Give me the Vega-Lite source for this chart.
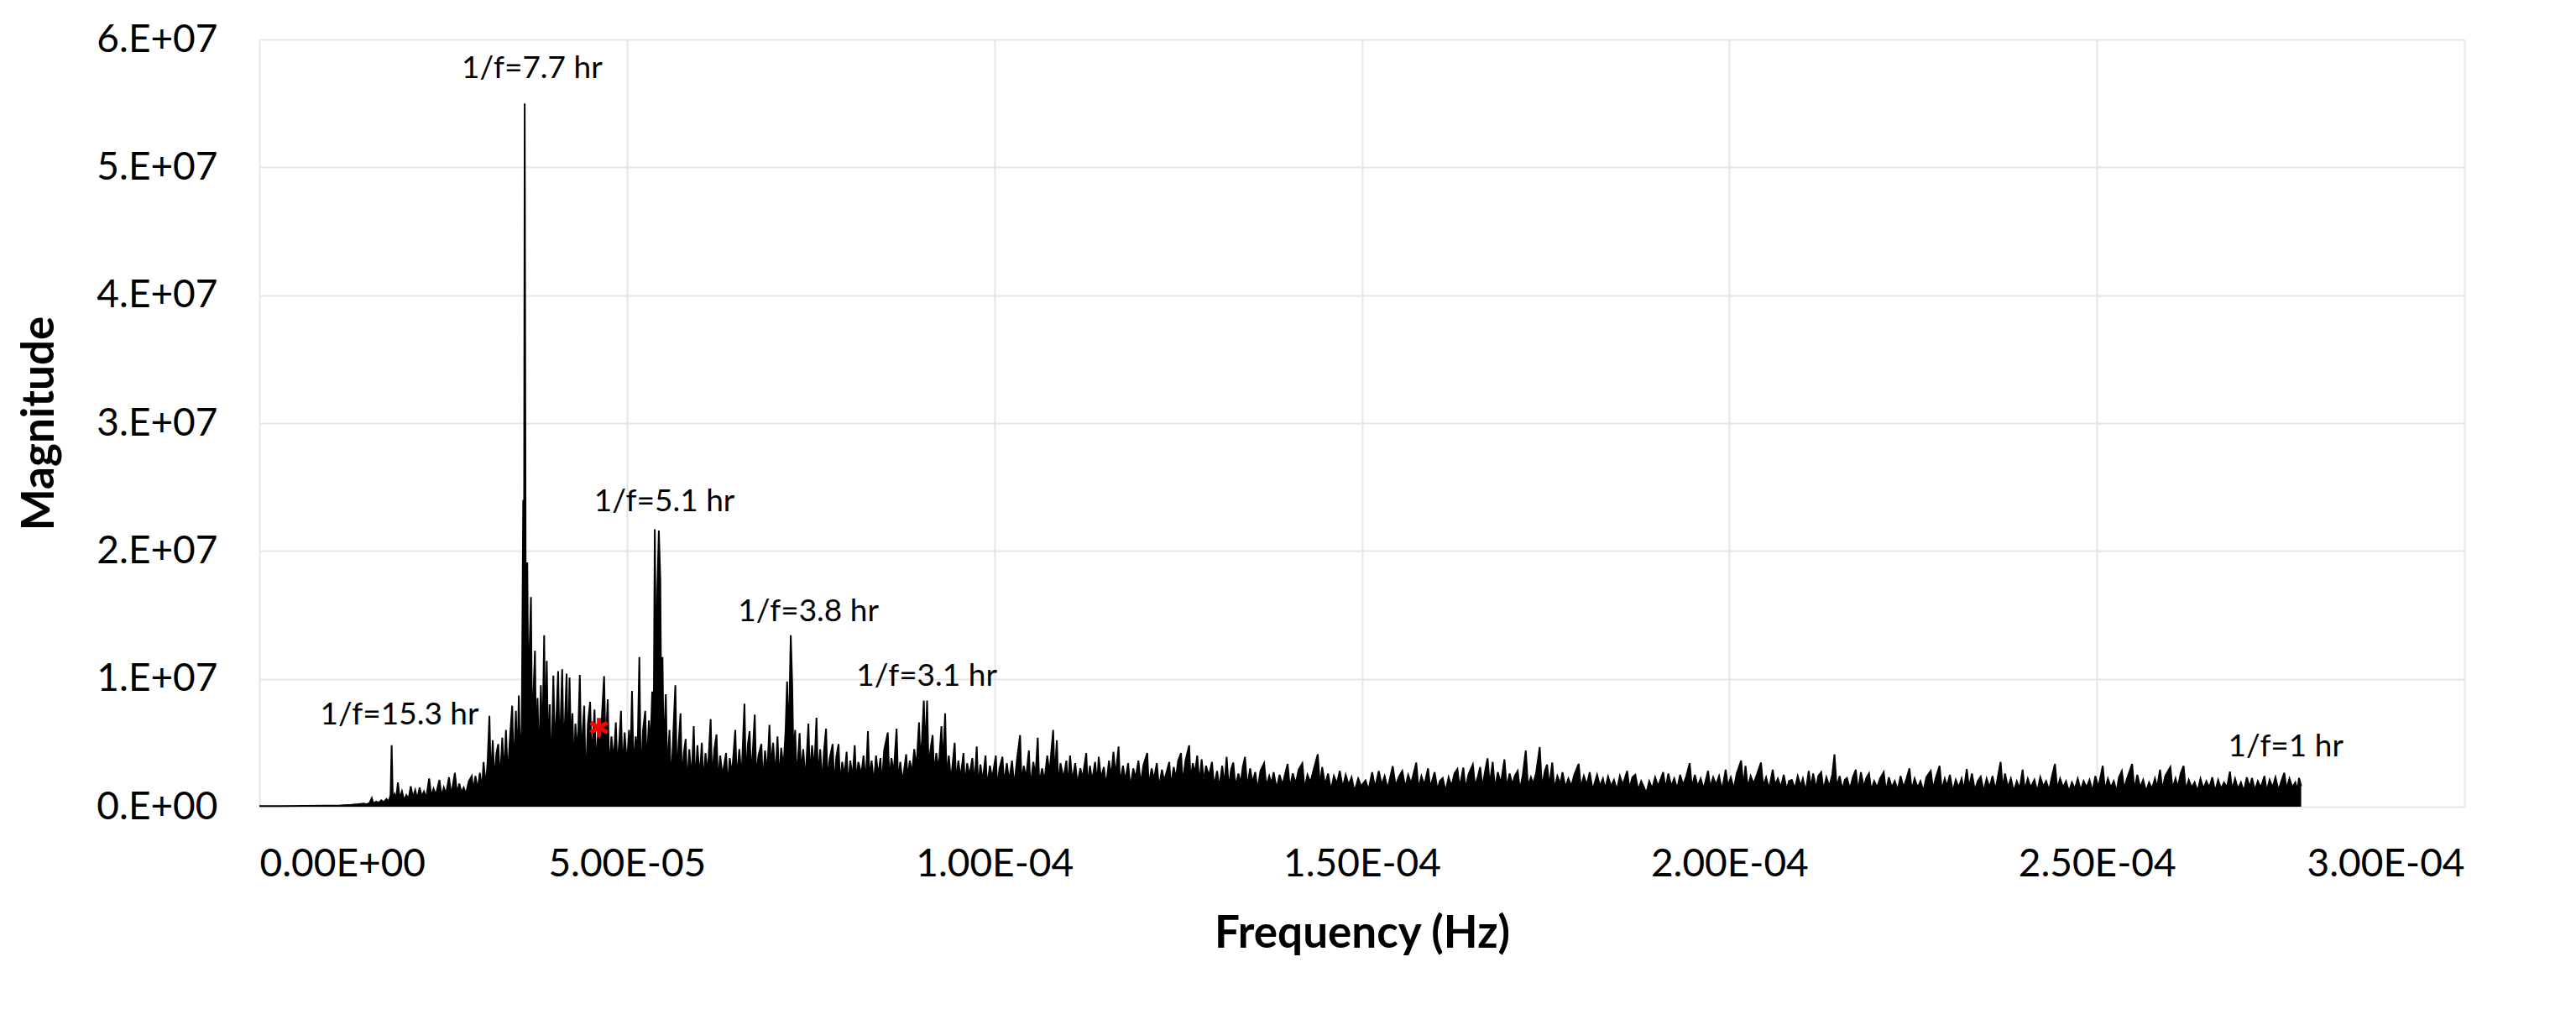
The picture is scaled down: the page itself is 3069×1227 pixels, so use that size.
{
  "$schema": "https://vega.github.io/schema/vega-lite/v6.json",
  "width": 2627,
  "height": 914,
  "autosize": {"type": "none"},
  "padding": {"left": 309, "top": 47, "right": 133, "bottom": 266},
  "background": "white",
  "config": {
    "view": {"stroke": null},
    "font": "Lato",
    "axis": {
      "labelFont": "Lato",
      "titleFont": "Lato",
      "labelColor": "black",
      "titleColor": "black",
      "labelFontSize": 46,
      "labelLimit": 0,
      "titleFontSize": 53,
      "titleFontWeight": "bold",
      "ticks": false,
      "domain": false,
      "grid": true,
      "gridColor": "#e6e6e6",
      "gridWidth": 2
    }
  },
  "datasets": {
    "spectrum": [
      {"f":0,"m":0.05},{"f":3,"m":0.05},{"f":6,"m":0.06},{"f":9,"m":0.08},{"f":11,"m":0.1},{"f":12.5,"m":0.14},{"f":13.5,"m":0.2},{"f":14.2,"m":0.25},{"f":14.6,"m":0.18},{"f":15.0,"m":0.3},{"f":15.3,"m":0.68},{"f":15.5,"m":0.25},{"f":15.9,"m":0.4},{"f":16.2,"m":0.3},{"f":16.6,"m":0.5},{"f":16.9,"m":0.35},{"f":17.3,"m":0.6},{"f":17.6,"m":0.4},{"f":17.85,"m":0.9},{"f":18.0,"m":4.8},{"f":18.15,"m":0.7},{"f":18.4,"m":1.0},{"f":18.6,"m":0.5},{"f":18.85,"m":1.9},{"f":19.1,"m":0.6},{"f":19.4,"m":1.2},{"f":19.7,"m":0.5},{"f":20.0,"m":0.9},{"f":20.3,"m":0.6},{"f":20.6,"m":1.6},{"f":20.9,"m":0.7},{"f":21.2,"m":1.3},{"f":21.5,"m":0.6},{"f":21.8,"m":1.5},{"f":22.1,"m":0.8},{"f":22.4,"m":1.2},{"f":22.7,"m":0.7},{"f":23.1,"m":2.2},{"f":23.4,"m":0.8},{"f":23.7,"m":1.4},{"f":24.0,"m":0.9},{"f":24.5,"m":2.1},{"f":24.8,"m":0.8},{"f":25.1,"m":1.5},{"f":25.4,"m":1.0},{"f":25.8,"m":2.3},{"f":26.1,"m":0.9},{"f":26.3,"m":1.6},{"f":26.6,"m":2.65},{"f":26.9,"m":1.0},{"f":27.2,"m":1.8},{"f":27.5,"m":1.1},{"f":27.8,"m":1.5},{"f":28.1,"m":1.0},{"f":28.5,"m":2.0},{"f":28.9,"m":2.4},{"f":29.1,"m":1.2},{"f":29.4,"m":2.4},{"f":29.7,"m":1.3},{"f":30.0,"m":2.65},{"f":30.3,"m":1.4},{"f":30.5,"m":3.5},{"f":30.8,"m":1.6},{"f":31.05,"m":3.45},{"f":31.3,"m":7.1},{"f":31.5,"m":1.8},{"f":31.75,"m":5.2},{"f":32.0,"m":1.9},{"f":32.25,"m":4.2},{"f":32.5,"m":4.9},{"f":32.75,"m":2.0},{"f":33.05,"m":5.4},{"f":33.3,"m":2.4},{"f":33.55,"m":6.0},{"f":33.8,"m":2.2},{"f":34.05,"m":5.0},{"f":34.4,"m":7.9},{"f":34.6,"m":2.6},{"f":34.9,"m":7.5},{"f":35.1,"m":3.0},{"f":35.3,"m":8.7},{"f":35.5,"m":3.2},{"f":35.7,"m":6.5},{"f":35.9,"m":24.0},{"f":36.0,"m":14},{"f":36.1,"m":55},{"f":36.25,"m":12},{"f":36.45,"m":19.1},{"f":36.6,"m":8},{"f":36.75,"m":12},{"f":36.95,"m":16.4},{"f":37.1,"m":5.5},{"f":37.3,"m":9},{"f":37.5,"m":12.2},{"f":37.65,"m":4.0},{"f":37.85,"m":8.5},{"f":38.05,"m":3.0},{"f":38.3,"m":9.5},{"f":38.5,"m":4.5},{"f":38.75,"m":13.4},{"f":38.9,"m":4.0},{"f":39.1,"m":11.4},{"f":39.3,"m":3.5},{"f":39.5,"m":8.0},{"f":39.7,"m":2.0},{"f":40.0,"m":10.25},{"f":40.2,"m":4.5},{"f":40.45,"m":7.5},{"f":40.65,"m":10.6},{"f":40.85,"m":3.8},{"f":41.2,"m":10.75},{"f":41.4,"m":4.2},{"f":41.6,"m":7.0},{"f":41.8,"m":10.4},{"f":42.0,"m":3.0},{"f":42.2,"m":10.1},{"f":42.4,"m":4.6},{"f":42.6,"m":7.3},{"f":42.8,"m":2.5},{"f":43.0,"m":6.5},{"f":43.3,"m":4.0},{"f":43.6,"m":10.3},{"f":43.8,"m":3.5},{"f":44.0,"m":6.0},{"f":44.2,"m":7.9},{"f":44.4,"m":1.5},{"f":44.7,"m":6.5},{"f":45.0,"m":8.2},{"f":45.2,"m":3.8},{"f":45.4,"m":5.5},{"f":45.6,"m":7.6},{"f":45.8,"m":3.0},{"f":46.1,"m":6.0},{"f":46.3,"m":4.2},{"f":46.6,"m":7.0},{"f":46.9,"m":10.2},{"f":47.1,"m":4.5},{"f":47.4,"m":8.4},{"f":47.6,"m":2.5},{"f":47.9,"m":5.5},{"f":48.2,"m":3.5},{"f":48.5,"m":6.6},{"f":48.7,"m":3.0},{"f":49.0,"m":5.4},{"f":49.2,"m":7.5},{"f":49.4,"m":2.8},{"f":49.7,"m":5.8},{"f":50.0,"m":3.2},{"f":50.3,"m":6.0},{"f":50.5,"m":3.6},{"f":50.7,"m":9.05},{"f":50.9,"m":3.0},{"f":51.2,"m":5.5},{"f":51.45,"m":4.0},{"f":51.7,"m":11.7},{"f":51.9,"m":2.0},{"f":52.2,"m":6.0},{"f":52.5,"m":7.5},{"f":52.7,"m":3.0},{"f":53.0,"m":6.75},{"f":53.2,"m":4.5},{"f":53.45,"m":9.0},{"f":53.65,"m":6.5},{"f":53.8,"m":21.7},{"f":54.0,"m":9.0},{"f":54.15,"m":17.0},{"f":54.35,"m":21.6},{"f":54.55,"m":17.7},{"f":54.7,"m":6.0},{"f":54.85,"m":11.7},{"f":55.0,"m":4.0},{"f":55.3,"m":8.8},{"f":55.5,"m":2.5},{"f":55.8,"m":6.0},{"f":56.0,"m":1.5},{"f":56.3,"m":5.5},{"f":56.6,"m":9.5},{"f":56.8,"m":2.0},{"f":57.05,"m":5.0},{"f":57.3,"m":7.3},{"f":57.5,"m":1.8},{"f":57.75,"m":4.2},{"f":58.0,"m":5.3},{"f":58.2,"m":1.5},{"f":58.5,"m":4.5},{"f":58.8,"m":2.0},{"f":59.1,"m":6.3},{"f":59.3,"m":1.6},{"f":59.6,"m":4.8},{"f":59.9,"m":2.2},{"f":60.2,"m":5.0},{"f":60.4,"m":1.8},{"f":60.7,"m":4.2},{"f":61.0,"m":2.5},{"f":61.4,"m":6.85},{"f":61.6,"m":2.0},{"f":61.9,"m":4.5},{"f":62.2,"m":5.65},{"f":62.4,"m":1.8},{"f":62.7,"m":4.0},{"f":63.0,"m":2.4},{"f":63.5,"m":4.2},{"f":63.7,"m":1.5},{"f":64.0,"m":3.8},{"f":64.3,"m":2.5},{"f":64.75,"m":6.0},{"f":64.95,"m":2.0},{"f":65.3,"m":4.5},{"f":65.6,"m":2.2},{"f":66.0,"m":8.05},{"f":66.2,"m":2.0},{"f":66.45,"m":4.8},{"f":66.7,"m":5.9},{"f":66.9,"m":2.4},{"f":67.15,"m":4.5},{"f":67.4,"m":7.2},{"f":67.6,"m":2.2},{"f":67.9,"m":4.0},{"f":68.3,"m":4.9},{"f":68.5,"m":1.8},{"f":68.8,"m":4.4},{"f":69.1,"m":2.6},{"f":69.4,"m":6.4},{"f":69.6,"m":3.0},{"f":69.9,"m":5.0},{"f":70.2,"m":2.4},{"f":70.5,"m":5.5},{"f":70.7,"m":2.0},{"f":71.0,"m":4.6},{"f":71.3,"m":3.0},{"f":71.6,"m":6.0},{"f":71.8,"m":9.8},{"f":72.0,"m":5.0},{"f":72.15,"m":9.0},{"f":72.3,"m":13.4},{"f":72.5,"m":9.5},{"f":72.65,"m":4.0},{"f":72.9,"m":6.0},{"f":73.1,"m":2.0},{"f":73.5,"m":5.75},{"f":73.7,"m":2.6},{"f":74.0,"m":4.5},{"f":74.3,"m":2.0},{"f":74.7,"m":6.5},{"f":74.9,"m":2.4},{"f":75.2,"m":4.8},{"f":75.5,"m":2.8},{"f":75.8,"m":6.95},{"f":76.0,"m":2.2},{"f":76.3,"m":4.5},{"f":76.6,"m":1.8},{"f":76.8,"m":4.2},{"f":77.1,"m":6.1},{"f":77.3,"m":2.0},{"f":77.6,"m":3.8},{"f":78.0,"m":4.9},{"f":78.2,"m":1.6},{"f":78.5,"m":3.9},{"f":78.8,"m":4.9},{"f":79.0,"m":1.8},{"f":79.3,"m":3.5},{"f":79.6,"m":2.4},{"f":79.9,"m":4.3},{"f":80.1,"m":1.5},{"f":80.4,"m":3.6},{"f":80.7,"m":2.2},{"f":81.0,"m":4.8},{"f":81.2,"m":2.0},{"f":81.5,"m":3.5},{"f":81.9,"m":2.5},{"f":82.2,"m":4.0},{"f":82.5,"m":1.8},{"f":82.8,"m":5.9},{"f":83.0,"m":2.2},{"f":83.3,"m":3.6},{"f":83.6,"m":1.8},{"f":83.9,"m":4.0},{"f":84.2,"m":2.4},{"f":84.5,"m":3.8},{"f":84.7,"m":1.6},{"f":85.0,"m":4.4},{"f":85.5,"m":5.8},{"f":85.7,"m":2.0},{"f":86.0,"m":3.8},{"f":86.3,"m":2.6},{"f":86.7,"m":6.1},{"f":86.9,"m":2.0},{"f":87.2,"m":3.5},{"f":87.5,"m":1.9},{"f":88.0,"m":4.1},{"f":88.2,"m":2.2},{"f":88.5,"m":3.6},{"f":88.8,"m":2.6},{"f":89.1,"m":4.5},{"f":89.4,"m":3.0},{"f":89.75,"m":6.6},{"f":89.95,"m":3.4},{"f":90.15,"m":5.2},{"f":90.4,"m":8.3},{"f":90.6,"m":4.0},{"f":90.85,"m":8.3},{"f":91.05,"m":3.0},{"f":91.3,"m":4.4},{"f":91.6,"m":5.6},{"f":91.8,"m":2.5},{"f":92.1,"m":4.2},{"f":92.4,"m":2.8},{"f":92.8,"m":6.3},{"f":93.0,"m":3.0},{"f":93.3,"m":7.3},{"f":93.5,"m":2.2},{"f":93.8,"m":4.0},{"f":94.1,"m":2.0},{"f":94.6,"m":5.0},{"f":94.8,"m":1.8},{"f":95.1,"m":3.6},{"f":95.4,"m":2.2},{"f":95.8,"m":4.2},{"f":96.0,"m":1.6},{"f":96.3,"m":3.4},{"f":96.6,"m":2.4},{"f":97.0,"m":3.8},{"f":97.3,"m":1.8},{"f":97.6,"m":4.7},{"f":97.8,"m":1.5},{"f":98.1,"m":3.3},{"f":98.4,"m":2.0},{"f":98.8,"m":4.0},{"f":99.0,"m":1.6},{"f":99.4,"m":3.2},{"f":99.7,"m":2.2},{"f":100.2,"m":4.0},{"f":100.4,"m":1.4},{"f":100.7,"m":3.0},{"f":101.1,"m":3.9},{"f":101.3,"m":1.8},{"f":101.7,"m":3.4},{"f":102.0,"m":2.0},{"f":102.4,"m":3.6},{"f":102.7,"m":1.6},{"f":103.1,"m":3.8},{"f":103.5,"m":5.6},{"f":103.7,"m":1.8},{"f":104.0,"m":3.2},{"f":104.3,"m":2.2},{"f":104.7,"m":4.4},{"f":104.9,"m":1.5},{"f":105.3,"m":3.5},{"f":105.6,"m":2.4},{"f":105.9,"m":5.4},{"f":106.1,"m":1.8},{"f":106.5,"m":3.0},{"f":106.8,"m":2.0},{"f":107.2,"m":4.0},{"f":107.5,"m":2.6},{"f":108.0,"m":6.0},{"f":108.2,"m":2.2},{"f":108.5,"m":5.2},{"f":108.7,"m":1.6},{"f":109.0,"m":3.4},{"f":109.4,"m":2.2},{"f":109.8,"m":3.6},{"f":110.0,"m":1.5},{"f":110.3,"m":4.0},{"f":110.6,"m":2.0},{"f":111.0,"m":3.4},{"f":111.3,"m":1.8},{"f":111.7,"m":3.0},{"f":112.0,"m":2.2},{"f":112.5,"m":4.2},{"f":112.7,"m":1.6},{"f":113.0,"m":3.2},{"f":113.3,"m":2.0},{"f":113.7,"m":3.5},{"f":114.0,"m":1.8},{"f":114.2,"m":3.9},{"f":114.5,"m":2.2},{"f":114.9,"m":3.1},{"f":115.2,"m":1.6},{"f":115.6,"m":3.6},{"f":115.9,"m":2.3},{"f":116.2,"m":4.3},{"f":116.5,"m":2.4},{"f":116.9,"m":4.7},{"f":117.1,"m":1.8},{"f":117.5,"m":3.2},{"f":117.8,"m":2.0},{"f":118.2,"m":3.4},{"f":118.5,"m":1.5},{"f":118.9,"m":3.0},{"f":119.2,"m":2.2},{"f":119.6,"m":3.6},{"f":119.9,"m":1.8},{"f":120.3,"m":3.3},{"f":120.8,"m":4.2},{"f":121.0,"m":1.7},{"f":121.4,"m":3.0},{"f":121.7,"m":2.1},{"f":122.1,"m":3.4},{"f":122.4,"m":1.5},{"f":122.8,"m":2.9},{"f":123.1,"m":2.0},{"f":123.8,"m":3.5},{"f":124.0,"m":1.6},{"f":124.4,"m":3.1},{"f":124.7,"m":2.2},{"f":125.0,"m":3.6},{"f":125.4,"m":4.2},{"f":125.6,"m":1.8},{"f":126.0,"m":3.6},{"f":126.5,"m":4.8},{"f":126.7,"m":2.0},{"f":127.0,"m":3.4},{"f":127.3,"m":2.6},{"f":127.6,"m":4.0},{"f":127.9,"m":1.8},{"f":128.2,"m":3.7},{"f":128.5,"m":2.0},{"f":128.8,"m":3.2},{"f":129.2,"m":2.4},{"f":129.6,"m":3.5},{"f":129.9,"m":1.6},
      {"f":130.3,"m":2.8},{"f":130.6,"m":1.5},{"f":131.0,"m":3.2},{"f":131.3,"m":1.7},{"f":131.6,"m":3.9},{"f":131.9,"m":1.4},{"f":132.2,"m":2.9},{"f":132.5,"m":3.45},{"f":132.8,"m":1.6},{"f":133.2,"m":2.6},{"f":133.5,"m":1.8},{"f":133.8,"m":3.1},{"f":134.1,"m":3.9},{"f":134.4,"m":1.5},{"f":134.8,"m":3.0},{"f":135.1,"m":1.9},{"f":135.5,"m":2.7},{"f":135.8,"m":1.3},{"f":136.2,"m":2.8},{"f":136.7,"m":3.4},{"f":137.0,"m":1.6},{"f":137.4,"m":2.4},{"f":137.7,"m":1.8},{"f":138.0,"m":2.7},{"f":138.4,"m":1.4},{"f":138.8,"m":2.5},{"f":139.2,"m":1.7},{"f":139.9,"m":3.35},{"f":140.2,"m":1.5},{"f":140.6,"m":2.6},{"f":141.0,"m":1.8},{"f":141.4,"m":2.9},{"f":141.9,"m":3.4},{"f":142.2,"m":1.4},{"f":142.6,"m":2.5},{"f":143.0,"m":1.9},{"f":143.4,"m":2.8},{"f":144.0,"m":4.1},{"f":144.3,"m":1.6},{"f":144.6,"m":3.1},{"f":145.0,"m":1.7},{"f":145.4,"m":2.6},{"f":145.8,"m":1.3},{"f":146.2,"m":2.4},{"f":146.6,"m":1.8},{"f":147.0,"m":2.8},{"f":147.4,"m":1.5},{"f":147.8,"m":2.5},{"f":148.2,"m":1.7},{"f":148.6,"m":2.3},{"f":149.0,"m":1.2},{"f":149.5,"m":2.2},{"f":149.9,"m":1.6},{"f":150.5,"m":2.05},{"f":150.9,"m":1.3},{"f":151.4,"m":2.7},{"f":151.8,"m":1.5},{"f":152.3,"m":2.8},{"f":152.7,"m":1.7},{"f":153.1,"m":2.4},{"f":153.5,"m":1.4},{"f":154.2,"m":3.17},{"f":154.6,"m":1.6},{"f":155.0,"m":2.3},{"f":155.5,"m":2.8},{"f":155.9,"m":1.5},{"f":156.3,"m":2.5},{"f":156.7,"m":1.8},{"f":157.4,"m":3.45},{"f":157.7,"m":1.4},{"f":158.1,"m":2.4},{"f":158.5,"m":1.7},{"f":159.0,"m":3.0},{"f":159.3,"m":1.5},{"f":159.9,"m":2.7},{"f":160.3,"m":1.3},{"f":160.6,"m":2.0},{"f":161.0,"m":2.25},{"f":161.4,"m":1.2},{"f":161.8,"m":2.3},{"f":162.2,"m":1.6},{"f":162.6,"m":2.6},{"f":163.0,"m":2.95},{"f":163.3,"m":1.5},{"f":163.8,"m":3.06},{"f":164.1,"m":1.4},{"f":164.5,"m":2.5},{"f":165.1,"m":3.3},{"f":165.4,"m":1.6},{"f":165.8,"m":2.4},{"f":166.1,"m":3.1},{"f":166.4,"m":1.5},{"f":166.8,"m":2.9},{"f":167.1,"m":3.78},{"f":167.4,"m":1.7},{"f":167.8,"m":3.5},{"f":168.1,"m":1.4},{"f":168.5,"m":2.7},{"f":168.9,"m":1.8},{"f":169.4,"m":3.7},{"f":169.7,"m":1.5},{"f":170.1,"m":2.6},{"f":170.5,"m":1.7},{"f":170.8,"m":2.4},{"f":171.2,"m":2.8},{"f":171.5,"m":1.3},{"f":171.9,"m":2.5},{"f":172.3,"m":4.4},{"f":172.6,"m":1.6},{"f":173.0,"m":2.3},{"f":173.3,"m":1.8},{"f":173.7,"m":2.6},{"f":174.2,"m":4.66},{"f":174.5,"m":1.5},{"f":174.9,"m":2.8},{"f":175.2,"m":3.3},{"f":175.5,"m":1.6},{"f":175.9,"m":3.45},{"f":176.2,"m":1.4},{"f":176.6,"m":2.4},{"f":177.0,"m":1.8},{"f":177.3,"m":2.7},{"f":177.7,"m":1.5},{"f":178.1,"m":2.2},{"f":178.5,"m":1.6},{"f":178.9,"m":2.5},{"f":179.5,"m":3.35},{"f":179.8,"m":1.5},{"f":180.2,"m":2.4},{"f":180.6,"m":1.7},{"f":181.0,"m":2.7},{"f":181.4,"m":1.3},{"f":182.0,"m":2.5},{"f":182.4,"m":1.6},{"f":182.8,"m":2.2},{"f":183.1,"m":1.4},{"f":183.5,"m":2.36},{"f":183.9,"m":1.6},{"f":184.3,"m":2.1},{"f":184.7,"m":1.3},{"f":185.1,"m":2.4},{"f":185.5,"m":1.7},{"f":186.1,"m":2.8},{"f":186.4,"m":1.4},{"f":186.8,"m":2.3},{"f":187.2,"m":2.5},{"f":187.6,"m":1.3},{"f":188.0,"m":2.0},{"f":188.4,"m":1.5},{"f":188.7,"m":1.05},{"f":189.1,"m":2.0},{"f":189.5,"m":1.4},{"f":189.9,"m":2.3},{"f":190.3,"m":1.6},{"f":191.0,"m":2.7},{"f":191.3,"m":1.4},{"f":191.7,"m":2.6},{"f":192.1,"m":1.6},{"f":192.5,"m":2.2},{"f":192.9,"m":1.4},{"f":193.3,"m":2.5},{"f":193.7,"m":1.7},{"f":194.1,"m":2.3},{"f":194.6,"m":3.4},{"f":194.9,"m":1.5},{"f":195.3,"m":2.5},{"f":195.7,"m":1.6},{"f":196.1,"m":2.2},{"f":196.5,"m":1.4},{"f":197.1,"m":2.8},{"f":197.4,"m":1.5},{"f":197.8,"m":2.3},{"f":198.2,"m":1.7},{"f":198.6,"m":2.4},{"f":199.0,"m":1.3},{"f":199.5,"m":2.9},{"f":199.8,"m":1.6},{"f":200.2,"m":2.3},{"f":200.6,"m":1.4},{"f":201.0,"m":2.6},{"f":201.6,"m":3.6},{"f":201.9,"m":1.6},{"f":202.2,"m":3.2},{"f":202.5,"m":1.5},{"f":202.9,"m":2.4},{"f":203.3,"m":1.8},{"f":203.8,"m":2.6},{"f":204.3,"m":3.45},{"f":204.6,"m":1.6},{"f":205.0,"m":2.3},{"f":205.4,"m":1.4},{"f":205.9,"m":2.9},{"f":206.2,"m":1.7},{"f":206.6,"m":2.2},{"f":207.0,"m":1.5},{"f":207.4,"m":2.5},{"f":207.8,"m":1.3},{"f":208.1,"m":2.0},{"f":208.5,"m":2.1},{"f":208.9,"m":1.4},{"f":209.3,"m":2.4},{"f":209.7,"m":1.6},{"f":210.0,"m":2.2},{"f":210.4,"m":1.2},{"f":210.8,"m":2.8},{"f":211.1,"m":1.5},{"f":211.4,"m":2.6},{"f":211.8,"m":1.4},{"f":212.1,"m":2.4},{"f":212.5,"m":2.7},{"f":212.8,"m":1.3},{"f":213.2,"m":2.3},{"f":213.6,"m":1.6},{"f":214.0,"m":2.5},{"f":214.3,"m":4.1},{"f":214.6,"m":1.5},{"f":215.0,"m":2.4},{"f":215.4,"m":1.3},{"f":215.7,"m":2.1},{"f":216.0,"m":2.25},{"f":216.4,"m":1.4},{"f":216.8,"m":2.3},{"f":217.2,"m":2.9},{"f":217.5,"m":1.2},{"f":217.9,"m":2.7},{"f":218.3,"m":1.5},{"f":218.6,"m":2.2},{"f":219.0,"m":2.6},{"f":219.3,"m":1.3},{"f":219.7,"m":2.0},{"f":220.1,"m":1.5},{"f":220.5,"m":2.2},{"f":221.0,"m":2.7},{"f":221.3,"m":1.2},{"f":221.7,"m":2.3},{"f":222.1,"m":1.5},{"f":222.5,"m":2.0},{"f":222.9,"m":1.3},{"f":223.3,"m":2.4},{"f":223.7,"m":1.5},{"f":224.1,"m":2.2},{"f":224.5,"m":3.0},{"f":224.8,"m":1.3},{"f":225.2,"m":2.2},{"f":225.6,"m":1.5},{"f":226.0,"m":2.0},{"f":226.4,"m":1.2},{"f":226.8,"m":2.3},{"f":227.4,"m":2.8},{"f":227.7,"m":1.4},{"f":228.1,"m":2.3},{"f":228.6,"m":3.2},{"f":228.9,"m":1.3},{"f":229.3,"m":2.2},{"f":229.6,"m":1.6},{"f":230.0,"m":2.5},{"f":230.4,"m":1.2},{"f":230.8,"m":2.1},{"f":231.2,"m":1.5},{"f":231.6,"m":2.2},{"f":231.9,"m":1.3},{"f":232.3,"m":2.95},{"f":232.6,"m":1.5},{"f":233.0,"m":2.6},{"f":233.4,"m":1.3},{"f":233.8,"m":2.0},{"f":234.2,"m":2.36},{"f":234.6,"m":1.2},{"f":235.0,"m":2.2},{"f":235.4,"m":1.5},{"f":235.8,"m":2.4},{"f":236.2,"m":1.3},{"f":236.9,"m":3.5},{"f":237.2,"m":1.4},{"f":237.5,"m":2.6},{"f":237.9,"m":1.5},{"f":238.3,"m":2.2},{"f":238.7,"m":1.2},{"f":239.1,"m":2.0},{"f":239.5,"m":1.4},{"f":239.9,"m":2.9},{"f":240.2,"m":1.3},{"f":240.6,"m":2.2},{"f":241.0,"m":1.5},{"f":241.5,"m":2.1},{"f":241.9,"m":1.2},{"f":242.3,"m":2.3},{"f":242.7,"m":1.6},{"f":243.1,"m":2.0},{"f":243.5,"m":1.3},{"f":243.9,"m":2.4},{"f":244.3,"m":3.35},{"f":244.6,"m":1.4},{"f":245.0,"m":2.2},{"f":245.4,"m":1.5},{"f":245.8,"m":2.0},{"f":246.2,"m":1.2},{"f":246.6,"m":1.9},{"f":247.0,"m":1.4},{"f":247.4,"m":2.2},{"f":247.8,"m":1.3},{"f":248.2,"m":2.0},{"f":248.6,"m":1.5},{"f":249.0,"m":2.1},{"f":249.4,"m":1.2},{"f":249.8,"m":2.4},{"f":250.2,"m":1.5},{"f":250.8,"m":3.2},{"f":251.1,"m":1.3},{"f":251.5,"m":2.2},{"f":251.9,"m":1.5},{"f":252.3,"m":2.0},{"f":252.7,"m":1.2},{"f":253.0,"m":2.3},{"f":253.4,"m":2.8},{"f":253.7,"m":1.4},{"f":254.1,"m":2.2},{"f":254.8,"m":3.35},{"f":255.1,"m":1.3},{"f":255.5,"m":2.5},{"f":255.9,"m":1.5},{"f":256.3,"m":2.1},{"f":256.7,"m":1.2},{"f":257.1,"m":1.9},{"f":257.5,"m":1.4},{"f":257.9,"m":2.2},{"f":258.2,"m":1.5},{"f":258.6,"m":2.9},{"f":258.9,"m":1.3},{"f":259.3,"m":2.4},{"f":260.0,"m":3.1},{"f":260.3,"m":1.4},{"f":260.7,"m":2.2},{"f":261.0,"m":1.5},{"f":261.4,"m":2.6},{"f":261.8,"m":3.2},{"f":262.1,"m":1.3},{"f":262.5,"m":2.1},{"f":262.9,"m":1.5},{"f":263.3,"m":1.9},{"f":263.7,"m":1.2},{"f":264.1,"m":2.2},{"f":264.5,"m":1.4},{"f":264.9,"m":2.0},{"f":265.3,"m":1.5},{"f":265.7,"m":2.3},{"f":266.1,"m":1.2},{"f":266.5,"m":2.1},{"f":266.9,"m":1.4},{"f":267.3,"m":1.9},{"f":267.7,"m":1.5},{"f":268.1,"m":2.75},{"f":268.4,"m":1.3},{"f":268.8,"m":2.2},{"f":269.2,"m":1.4},{"f":269.6,"m":1.9},{"f":270.0,"m":1.2},{"f":270.4,"m":2.3},{"f":270.8,"m":1.5},{"f":271.1,"m":2.25},{"f":271.5,"m":1.3},{"f":271.9,"m":2.0},{"f":272.3,"m":1.5},{"f":272.8,"m":2.4},{"f":273.1,"m":1.2},{"f":273.5,"m":2.1},{"f":273.9,"m":1.5},{"f":274.3,"m":2.3},{"f":274.7,"m":1.3},{"f":275.1,"m":2.0},{"f":275.5,"m":2.65},{"f":275.8,"m":1.4},{"f":276.2,"m":2.2},{"f":276.6,"m":1.5},{"f":277.0,"m":1.9},{"f":277.3,"m":1.3},{"f":277.5,"m":2.25},{"f":277.8,"m":1.6}
    ],
    "notes": [
      {"f":37.1,"m":57.7,"t":"1/f=7.7 hr"},
      {"f":55.1,"m":23.85,"t":"1/f=5.1 hr"},
      {"f":74.7,"m":15.2,"t":"1/f=3.8 hr"},
      {"f":90.8,"m":10.2,"t":"1/f=3.1 hr"},
      {"f":19.07,"m":7.18,"t":"1/f=15.3 hr"},
      {"f":275.7,"m":4.66,"t":"1/f=1 hr"}
    ],
    "marker": [
      {"f":46.2,"m":6.19}
    ]
  },
  "encoding": {
    "x": {
      "field": "f",
      "type": "quantitative",
      "title": "Frequency (Hz)",
      "scale": {"domain": [0, 300], "nice": false, "zero": true},
      "axis": {
        "values": [0, 50, 100, 150, 200, 250, 300],
        "labelExpr": "replace(replace(format(datum.value * 1e-6, '.2e'), 'e-', 'E-0'), 'e+', 'E+0')",
        "labelPadding": 46,
        "titlePadding": 34
      }
    },
    "y": {
      "field": "m",
      "type": "quantitative",
      "title": "Magnitude",
      "scale": {"domain": [0, 60], "nice": false},
      "axis": {
        "values": [0, 10, 20, 30, 40, 50, 60],
        "labelExpr": "replace(format(datum.value * 1e6, '.0e'), 'e+', '.E+0')",
        "labelPadding": 50,
        "titlePadding": 40
      }
    }
  },
  "layer": [
    {
      "data": {"name": "spectrum"},
      "mark": {
        "type": "area",
        "color": "black",
        "opacity": 1,
        "line": {"color": "black", "strokeWidth": 2}
      }
    },
    {
      "data": {"name": "notes"},
      "mark": {"type": "text", "font": "Lato", "fontSize": 37, "color": "black", "align": "center", "baseline": "middle"},
      "encoding": {"text": {"field": "t"}}
    },
    {
      "data": {"name": "marker"},
      "mark": {
        "type": "point",
        "shape": "M0,-1L0,1M-0.87,-0.5L0.87,0.5M-0.87,0.5L0.87,-0.5",
        "size": 530,
        "filled": false,
        "stroke": "#ff0000",
        "strokeWidth": 5,
        "opacity": 1
      }
    }
  ]
}
